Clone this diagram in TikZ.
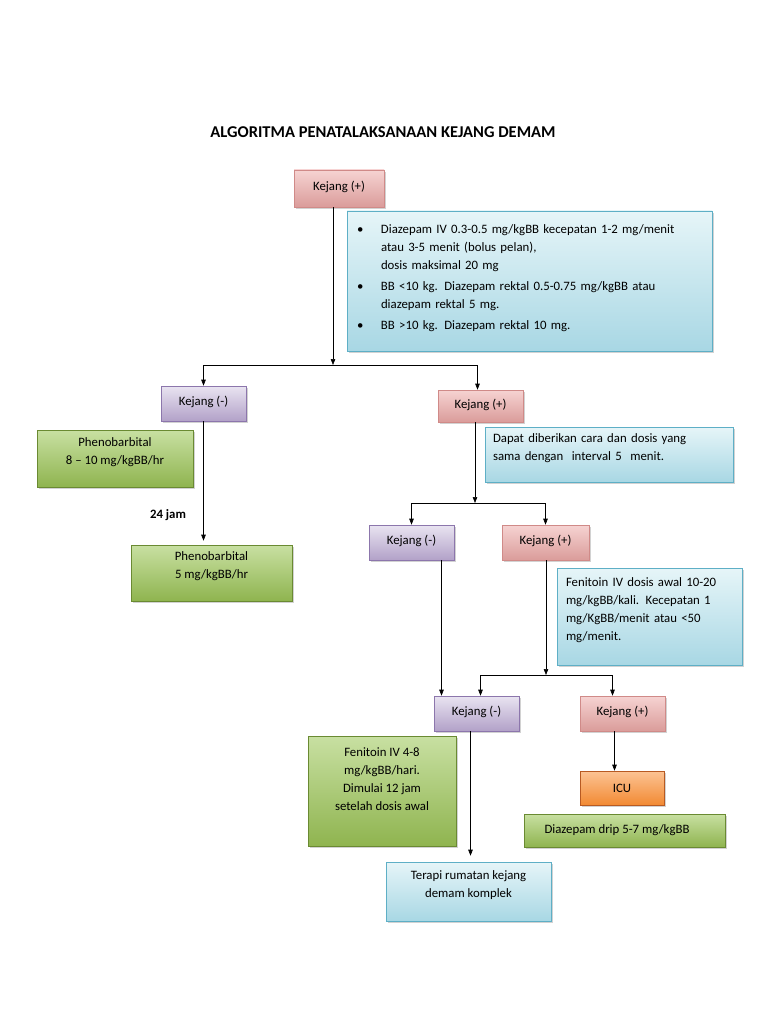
\documentclass[tikz,border=0pt]{standalone}
\usepackage{fontspec}
\setmainfont{Carlito}
\usetikzlibrary{arrows.meta,shadows}
\definecolor{kposT}{HTML}{F6D3D2}\definecolor{kposB}{HTML}{DA9C9A}\definecolor{kposD}{HTML}{D08A88}
\definecolor{knegT}{HTML}{E9E4F1}\definecolor{knegB}{HTML}{B2A1C8}\definecolor{knegD}{HTML}{8C76AC}
\definecolor{gT}{HTML}{C8E0A2}\definecolor{gB}{HTML}{8FB44F}\definecolor{gD}{HTML}{6A8A32}
\definecolor{bT}{HTML}{E6F5F8}\definecolor{bB}{HTML}{A8D7E4}\definecolor{bD}{HTML}{5EAFC6}
\definecolor{oT}{HTML}{FCC394}\definecolor{oB}{HTML}{F28A33}\definecolor{oD}{HTML}{B85A22}
\tikzset{
  box/.style={draw, rectangle, inner sep=4pt, line width=0.6pt,
    drop shadow={shadow xshift=2pt, shadow yshift=-2pt, opacity=0.35},
    font=\fontsize{12.8}{18}\selectfont},
  kpos/.style={box, top color=kposT, bottom color=kposB, draw=kposD, text depth=5pt},
  kneg/.style={box, top color=knegT, bottom color=knegB, draw=knegD, text depth=5pt},
  gbox/.style={box, top color=gT, bottom color=gB, draw=gD, align=center},
  bbox/.style={box, top color=bT, bottom color=bB, draw=bD, align=left},
  obox/.style={box, top color=oT, bottom color=oB, draw=oD},
  arr/.style={-{Triangle[length=6pt,width=4.5pt]}, line width=0.6pt}
}
\newcommand{\itm}{\makebox[24pt][l]{\textbullet}}
\newcommand{\pad}{\\[-8pt]\strut}
\begin{document}
\begin{tikzpicture}[x=1pt,y=-1pt]
  \useasboundingbox[fill=white] (0,0) rectangle (768,1024);
  \node[font=\fontsize{16.5}{18}\selectfont\bfseries] (TT) at (383,132) {ALGORITMA PENATALAKSANAAN KEJANG DEMAM};
  \node[kpos, minimum width=90pt, minimum height=37pt] (K1) at (339,188.5) {Kejang (+)};
  \node[bbox, minimum width=365pt, minimum height=140pt, text width=345pt] (I1) at (529.5,281)
    {\itm Diazepam IV 0.3-0.5 mg/kgBB kecepatan 1-2 mg/menit\\
     \hspace*{24pt}atau 3-5 menit (bolus pelan),\\
     \hspace*{24pt}dosis maksimal 20 mg\\[3pt]
     \itm BB <10 kg. Diazepam rektal 0.5-0.75 mg/kgBB atau\\
     \hspace*{24pt}diazepam rektal 5 mg.\\[3pt]
     \itm BB >10 kg. Diazepam rektal 10 mg.\\[-10pt]\mbox{}};
  \node[kneg, minimum width=85pt, minimum height=35pt] (K2) at (203.5,403.5) {Kejang (-)};
  \node[gbox, minimum width=156pt, minimum height=57pt] (P1) at (115,458.5) {Phenobarbital\\8 -- 10 mg/kgBB/hr\pad};
  \node[gbox, minimum width=161pt, minimum height=56pt] (P2) at (211.5,573) {Phenobarbital\\5 mg/kgBB/hr\pad};
  \node[font=\fontsize{12.8}{14}\selectfont\bfseries] (L1) at (168,515) {24 jam};
  \node[kpos, minimum width=85pt, minimum height=32pt] (K3) at (480.5,406) {Kejang (+)};
  \node[bbox, minimum width=248pt, minimum height=55pt, text width=232pt] (I2) at (609,454.5)
    {Dapat diberikan cara dan dosis yang\\sama dengan \ interval 5 \ menit.\pad};
  \node[kneg, minimum width=85pt, minimum height=35pt] (K4) at (411.5,542.5) {Kejang (-)};
  \node[kpos, minimum width=87pt, minimum height=35pt] (K5) at (545.5,542.5) {Kejang (+)};
  \node[bbox, minimum width=185pt, minimum height=97pt, text width=167pt] (I3) at (649.5,616.5)
    {Fenitoin IV dosis awal 10-20\\mg/kgBB/kali. Kecepatan 1\\mg/KgBB/menit atau <50\\mg/menit.\pad};
  \node[kneg, minimum width=85pt, minimum height=35pt] (K6) at (476.5,713.5) {Kejang (-)};
  \node[kpos, minimum width=85pt, minimum height=35pt] (K7) at (622.5,713.5) {Kejang (+)};
  \node[gbox, minimum width=148pt, minimum height=110pt] (F2) at (382,791)
    {Fenitoin IV 4-8\\mg/kgBB/hari.\\Dimulai 12 jam\\setelah dosis awal\\ \strut};
  \node[bbox, align=center, minimum width=165pt, minimum height=59pt] (T) at (468.5,891.5)
    {Terapi rumatan kejang\\demam komplek\pad};
  \node[obox, minimum width=84pt, minimum height=34pt] (ICU) at (622,788) {ICU};
  \node[gbox, minimum width=201pt, minimum height=33pt] (D) at (624.5,830.5) {Diazepam drip 5-7 mg/kgBB\hspace*{15pt}};
  \coordinate (F1) at (333,365);
  \coordinate (F3) at (475,503);
  \coordinate (F4) at (546,675);
  \draw[arr] (K1.south -| F1) -- (F1);
  \draw[arr] (F1) -| (K2.north);
  \draw[arr] (F1) -| ([xshift=-3pt]K3.north);
  \draw[arr, shorten >=4pt] (K2.south) -- (K2.south |- P2.north);
  \draw[arr] (K3.south -| F3) -- (F3);
  \draw[arr] (F3) -| (K4.north);
  \draw[arr] (F3) -| (K5.north);
  \draw[arr] (K5.south -| F4) -- (F4);
  \draw[arr] (F4) -| ([xshift=4pt]K6.north);
  \draw[arr] (F4) -| ([xshift=-10pt]K7.north);
  \draw[arr] ([xshift=30pt]K4.south) -- ([xshift=30pt]K4.south |- K6.north);
  \draw[arr] ([xshift=-8pt]K7.south) -- ([xshift=-8pt]K7.south |- ICU.north);
  \draw[arr, shorten >=6pt] ([xshift=-6pt]K6.south) -- ([xshift=-6pt]K6.south |- T.north);
\end{tikzpicture}
\end{document}
